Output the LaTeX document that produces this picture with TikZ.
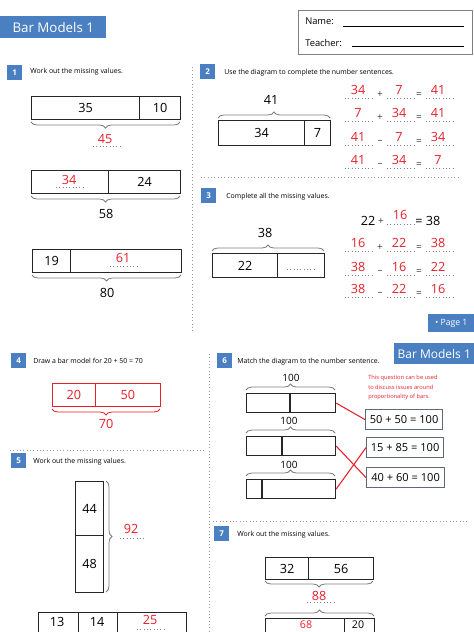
\documentclass[tikz,border=0pt]{standalone}
\usepackage{fontspec}
\setmainfont{Open Sans}
\usetikzlibrary{decorations.pathreplacing}
\definecolor{hblue}{RGB}{74,127,193}
\definecolor{ansred}{RGB}{232,32,42}
\definecolor{bracegray}{RGB}{125,125,125}
\definecolor{boxgray}{RGB}{95,105,125}
\definecolor{dotgray}{RGB}{120,130,150}
\newcommand\numfont{\fontsize{9.5}{11}\selectfont}
\newcommand\instrfont{\fontsize{5.2}{6.5}\selectfont}
\newcommand\Cell[6]{\node[cell, minimum width={(#4-#2)*0.75pt}, minimum height={(#5-#3)*0.75pt}] (#1) at (#2,#3) {#6};}
\newcommand\RCell[6]{\node[rcell, minimum width={(#4-#2)*0.75pt}, minimum height={(#5-#3)*0.75pt}] (#1) at (#2,#3) {#6};}
\newcommand\EqRow[6]{%
  \node[ans] (#1a) at (358,#2) {#3};
  \draw[dots] (345,#2+8) -- (373,#2+8);
  \node[opn] (#1o) at (380,#2+5) {#4};
  \node[ans] (#1b) at (399,#2) {#5};
  \draw[dots] (387,#2+8) -- (414,#2+8);
  \node[opn] (#1e) at (419,#2+5) {=};
  \node[ans] (#1c) at (438,#2) {#6};
  \draw[dots] (426,#2+8) -- (455,#2+8);
}
\begin{document}
\begin{tikzpicture}[x=0.75pt,y=-0.75pt,
  hdr/.style={fill=hblue, text=white, inner sep=0, anchor=north west, font=\fontsize{10}{12}\selectfont},
  qnum/.style={fill=hblue, text=white, minimum size=11.25pt, inner sep=0, anchor=north west, font=\fontsize{6}{7}\selectfont\bfseries},
  instr/.style={anchor=west, inner sep=0, font=\instrfont},
  num/.style={inner sep=0, font=\numfont},
  ans/.style={num, text=ansred},
  opn/.style={inner sep=0, font=\fontsize{7.5}{8}\selectfont, text=black!75},
  dots/.style={dotted, line width=0.5pt, draw=dotgray},
  brc/.style={decorate, decoration={brace, amplitude=4.5pt}, draw=bracegray, line width=0.6pt},
  sep/.style={dotted, draw=gray!80, line width=0.5pt},
  cell/.style={draw=black!85, line width=0.9pt, inner sep=0, anchor=north west, font=\numfont},
  rcell/.style={cell, draw=ansred, line width=0.7pt, text=ansred},
  eqbox/.style={draw=boxgray, line width=0.9pt, inner sep=0, anchor=north west, font=\fontsize{8.3}{10}\selectfont},
  link/.style={draw=ansred, line width=0.8pt}]
\useasboundingbox (0,0) rectangle (474,632);
\clip (0,0) rectangle (474,632);
\fill[white] (0,0) rectangle (474,632);

% ---------- header ----------
\node[hdr, minimum width={106*0.75pt}, minimum height={22*0.75pt}] (title) at (0,16) {Bar Models 1};
\node[draw=gray, line width=0.8pt, minimum width={174*0.75pt}, minimum height={44*0.75pt}, anchor=north west] (namebox) at (298,10) {};
\node[anchor=west, inner sep=0, font=\fontsize{7}{8}\selectfont] (name) at (305,21) {Name:};
\node[anchor=west, inner sep=0, font=\fontsize{7}{8}\selectfont] (teacher) at (305,43) {Teacher:};
\draw[line width=0.6pt] (343,26) -- (464,26);
\draw[line width=0.6pt] (352,46) -- (464,46);

% ---------- section 1 ----------
\node[qnum] (q1) at (7,65) {1};
\node[instr] (t1) at (30,72) {Work out the missing values.};
\Cell{b1a}{31}{96}{139}{119}{35}
\Cell{b1b}{139}{96}{180}{119}{10}
\draw[brc] (180,122) -- (31,122);
\node[ans] (a1) at (105,139) {45};
\draw[dots] (93,146) -- (120,146);

\Cell{b2a}{31}{170}{108}{193}{}
\Cell{b2b}{108}{170}{180}{193}{24}
\node[ans] (a2) at (69,180) {34};
\draw[dots] (56,187) -- (83,187);
\draw[brc] (180,196) -- (31,196);
\node[num] (l2) at (106,214) {58};

\Cell{b3a}{32}{249}{70}{272}{19}
\Cell{b3b}{70}{249}{181}{272}{}
\node[ans] (a3) at (123,258) {61};
\draw[dots] (110,266) -- (137,266);
\draw[brc] (181,275) -- (32,275);
\node[num] (l3) at (107,293) {80};

\draw[sep] (192,67) -- (192,332);

% ---------- section 2 ----------
\node[qnum] (q2) at (200,64) {2};
\node[instr] (t2) at (224,73) {Use the diagram to complete the number sentences.};
\node[num] (l41) at (271,100) {41};
\draw[brc] (218,118) -- (330,118);
\Cell{c2a}{218}{120}{304}{145}{34}
\Cell{c2b}{304}{120}{330}{145}{7}
\EqRow{r1}{90}{34}{+}{7}{41}
\EqRow{r2}{113}{7}{+}{34}{41}
\EqRow{r3}{137}{41}{\textendash}{7}{34}
\EqRow{r4}{160}{41}{\textendash}{34}{7}

\draw[sep] (201,177) -- (460,177);

% ---------- section 3 ----------
\node[qnum] (q3) at (201,188) {3};
\node[instr] (t3) at (226,197) {Complete all the missing values.};
\node[num] (l38) at (265,233) {38};
\draw[brc] (212,251) -- (324,251);
\Cell{c3a}{212}{253}{277}{277}{22}
\Cell{c3b}{277}{253}{324}{277}{}
\draw[dots] (287,269) -- (315,269);
\node[num] (e1a) at (368,221) {22};
\node[opn] (e1o) at (381,222) {+};
\node[ans] (e1b) at (400,215) {16};
\draw[dots] (387,224) -- (414,224);
\node[num, anchor=west] (e1c) at (415,221) {= 38};
\EqRow{s2}{243}{16}{+}{22}{38}
\EqRow{s3}{267}{38}{\textendash}{16}{22}
\EqRow{s4}{289}{38}{\textendash}{22}{16}

\node[fill=hblue, text=white, inner sep=0, anchor=north west, minimum width={46*0.75pt}, minimum height={18*0.75pt}, font=\fontsize{6.5}{7}\selectfont] (page) at (428,314) {\textbullet\ Page 1};

% ---------- section 4 ----------
\node[qnum] (q4) at (11,353) {4};
\node[instr] (t4) at (33,361) {Draw a bar model for 20 + 50 = 70};
\RCell{d4a}{52}{383}{95}{406}{20}
\RCell{d4b}{95}{383}{160}{406}{50}
\draw[brc, draw=ansred] (160,409) -- (52,409);
\node[ans] (v70) at (106,424) {70};

\draw[sep] (209,354) -- (209,632);

% ---------- section 5 ----------
\draw[sep] (10,450) -- (205,450);
\node[qnum] (q5) at (11,453) {5};
\node[instr] (t5) at (33,462) {Work out the missing values.};
\Cell{v5a}{75}{481}{103}{535}{44}
\Cell{v5b}{75}{535}{103}{592}{48}
\draw[brc] (106,481) -- (106,592);
\node[ans] (a92) at (131,529) {92};
\draw[dots] (120,538) -- (146,538);
\Cell{h5a}{38}{612}{78}{645}{}
\Cell{h5b}{78}{612}{117}{645}{}
\Cell{h5c}{117}{612}{186}{645}{}
\node[num] (v13) at (57,622) {13};
\node[num] (v14) at (97,622) {14};
\node[ans] (a25) at (150,620) {25};
\draw[dots] (137,629) -- (165,629);

% ---------- section 6 ----------
\node[qnum] (q6) at (217,353) {6};
\node[instr] (t6) at (237,362) {Match the diagram to the number sentence.};
\node[hdr, minimum width={80*0.75pt}, minimum height={21*0.75pt}, font=\fontsize{9}{11}\selectfont] (title2) at (394,343) {Bar Models 1};
\node[anchor=north west, inner sep=0, align=left, text=ansred, font=\fontsize{4.3}{7.1}\selectfont] (note) at (368,375) {This question can be used\\to discuss issues around\\proportionality of bars.};

\node[cell, minimum width={89*0.75pt}, minimum height={19*0.75pt}] (barA) at (246,393) {};
\draw[line width=0.9pt, black!85] (290,393) -- (290,412);
\draw[brc] (246,390) -- (335,390);
\node[num, font=\fontsize{7.5}{8}\selectfont] (hA) at (291,378) {100};

\node[cell, minimum width={89*0.75pt}, minimum height={19*0.75pt}] (barB) at (246,436) {};
\draw[line width=0.9pt, black!85] (282,436) -- (282,455);
\draw[brc] (246,433) -- (335,433);
\node[num, font=\fontsize{7.5}{8}\selectfont] (hB) at (289,421) {100};

\node[cell, minimum width={89*0.75pt}, minimum height={19*0.75pt}] (barC) at (246,479) {};
\draw[line width=0.9pt, black!85] (262,479) -- (262,498);
\draw[brc] (246,476) -- (335,476);
\node[num, font=\fontsize{7.5}{8}\selectfont] (hC) at (289,465) {100};

\node[eqbox, minimum width={77*0.75pt}, minimum height={20*0.75pt}] (box1) at (365,409) {50 + 50 = 100};
\node[eqbox, minimum width={77*0.75pt}, minimum height={20*0.75pt}] (box2) at (366,437) {15 + 85 = 100};
\node[eqbox, minimum width={78*0.75pt}, minimum height={20*0.75pt}] (box3) at (366,467) {40 + 60 = 100};

\draw[link] (barA.east) -- (box1.west);
\draw[link] (barB.east) -- (box3.west);
\draw[link] (barC.east) -- (box2.west);

% ---------- section 7 ----------
\draw[sep] (213,521) -- (467,521);
\node[qnum] (q7) at (214,526) {7};
\node[instr] (t7) at (237,535) {Work out the missing values.};
\Cell{g7a}{265}{557}{308}{579}{32}
\Cell{g7b}{308}{557}{373}{579}{56}
\draw[brc] (373,581) -- (265,581);
\node[ans] (a88) at (319,596) {88};
\draw[dots] (307,602) -- (334,602);
\draw[brc] (265,616) -- (374,616);
\Cell{k7a}{265}{618}{344}{645}{}
\Cell{k7b}{344}{618}{374}{645}{}
\node[ans, font=\fontsize{8}{9}\selectfont] (a68) at (306,625) {68};
\node[num, font=\fontsize{8}{9}\selectfont] (v20b) at (358,625) {20};
\end{tikzpicture}
\end{document}
